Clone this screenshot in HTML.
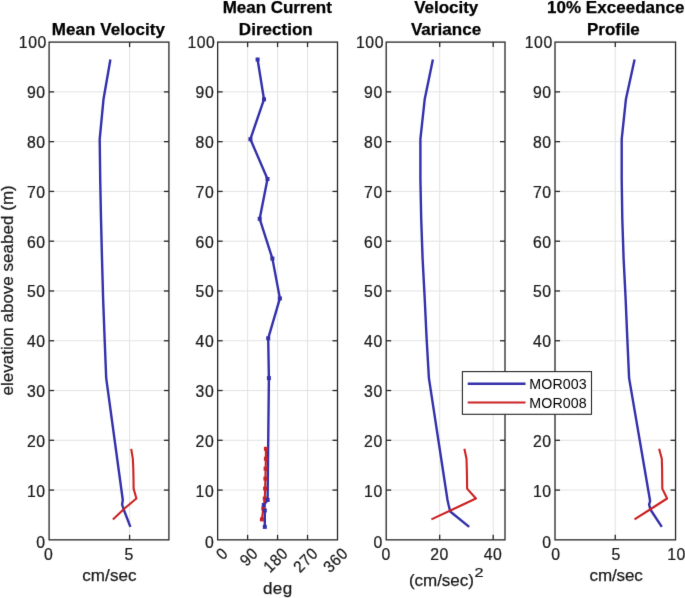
<!DOCTYPE html>
<html><head><meta charset="utf-8"><style>
html,body{margin:0;padding:0;background:#fff;overflow:hidden;width:685px;height:598px}
svg{display:block}
</style></head><body>
<svg width="685" height="598" viewBox="0 0 685 598"><defs><filter id="soft" x="0" y="0" width="685" height="598" filterUnits="userSpaceOnUse" color-interpolation-filters="sRGB"><feConvolveMatrix order="3" kernelMatrix="0.00640 0.06720 0.00640 0.06720 0.70560 0.06720 0.00640 0.06720 0.00640" edgeMode="duplicate" preserveAlpha="true"/></filter></defs><g filter="url(#soft)"><rect width="685" height="598" fill="#fff"/><g stroke="#e3e3e3" stroke-width="1"><line x1="49.1" y1="490.08" x2="168.9" y2="490.08"/><line x1="49.1" y1="440.30" x2="168.9" y2="440.30"/><line x1="49.1" y1="390.53" x2="168.9" y2="390.53"/><line x1="49.1" y1="340.75" x2="168.9" y2="340.75"/><line x1="49.1" y1="290.98" x2="168.9" y2="290.98"/><line x1="49.1" y1="241.20" x2="168.9" y2="241.20"/><line x1="49.1" y1="191.43" x2="168.9" y2="191.43"/><line x1="49.1" y1="141.65" x2="168.9" y2="141.65"/><line x1="49.1" y1="91.88" x2="168.9" y2="91.88"/><line x1="129.60" y1="42.1" x2="129.60" y2="539.85"/></g><path d="M110.4,59.5 L103.5,99.3 L99.7,139.2 L100.2,179.0 L101.0,218.8 L102.0,258.6 L103.1,298.4 L104.6,338.3 L106.2,378.1 L122.8,500.0 L122.1,504.5 L123.7,509.5 L130.4,526.9" fill="none" stroke="#3330aa" stroke-width="2.4" stroke-linejoin="round"/><path d="M131.2,448.8 L132.8,458.7 L133.3,468.7 L133.5,478.6 L133.6,488.6 L136.4,498.5 L124.5,508.5 L112.9,519.4" fill="none" stroke="#cc2222" stroke-width="2.1" stroke-linejoin="round"/><g stroke="#262626" stroke-width="1.3" fill="none"><rect x="49.1" y="42.1" width="119.80000000000001" height="497.75"/><line x1="49.1" y1="490.08" x2="54.1" y2="490.08"/><line x1="168.9" y1="490.08" x2="163.9" y2="490.08"/><line x1="49.1" y1="440.30" x2="54.1" y2="440.30"/><line x1="168.9" y1="440.30" x2="163.9" y2="440.30"/><line x1="49.1" y1="390.53" x2="54.1" y2="390.53"/><line x1="168.9" y1="390.53" x2="163.9" y2="390.53"/><line x1="49.1" y1="340.75" x2="54.1" y2="340.75"/><line x1="168.9" y1="340.75" x2="163.9" y2="340.75"/><line x1="49.1" y1="290.98" x2="54.1" y2="290.98"/><line x1="168.9" y1="290.98" x2="163.9" y2="290.98"/><line x1="49.1" y1="241.20" x2="54.1" y2="241.20"/><line x1="168.9" y1="241.20" x2="163.9" y2="241.20"/><line x1="49.1" y1="191.43" x2="54.1" y2="191.43"/><line x1="168.9" y1="191.43" x2="163.9" y2="191.43"/><line x1="49.1" y1="141.65" x2="54.1" y2="141.65"/><line x1="168.9" y1="141.65" x2="163.9" y2="141.65"/><line x1="49.1" y1="91.88" x2="54.1" y2="91.88"/><line x1="168.9" y1="91.88" x2="163.9" y2="91.88"/><line x1="129.60" y1="539.85" x2="129.60" y2="534.85"/><line x1="129.60" y1="42.1" x2="129.60" y2="47.1"/></g><g font-family="'Liberation Sans', Arial, Helvetica, sans-serif" font-size="17" fill="#1a1a1a" stroke="#1a1a1a" stroke-width="0.25" letter-spacing="0.6"><text transform="translate(45.71,547.50) scale(0.93,1)" text-anchor="end">0</text><text transform="translate(45.71,496.83) scale(0.93,1)" text-anchor="end">10</text><text transform="translate(45.71,446.85) scale(0.93,1)" text-anchor="end">20</text><text transform="translate(45.71,397.08) scale(0.93,1)" text-anchor="end">30</text><text transform="translate(45.71,347.30) scale(0.93,1)" text-anchor="end">40</text><text transform="translate(45.71,297.48) scale(0.93,1)" text-anchor="end">50</text><text transform="translate(45.71,247.70) scale(0.93,1)" text-anchor="end">60</text><text transform="translate(45.71,197.88) scale(0.93,1)" text-anchor="end">70</text><text transform="translate(45.71,148.10) scale(0.93,1)" text-anchor="end">80</text><text transform="translate(45.71,98.33) scale(0.93,1)" text-anchor="end">90</text><text transform="translate(46.91,48.25) scale(0.93,1)" text-anchor="end">100</text><text transform="translate(48.58,559.85) scale(0.93,1)" text-anchor="middle">0</text><text transform="translate(129.08,559.85) scale(0.93,1)" text-anchor="middle">5</text></g><g stroke="#e3e3e3" stroke-width="1"><line x1="217.65" y1="490.08" x2="337.5" y2="490.08"/><line x1="217.65" y1="440.30" x2="337.5" y2="440.30"/><line x1="217.65" y1="390.53" x2="337.5" y2="390.53"/><line x1="217.65" y1="340.75" x2="337.5" y2="340.75"/><line x1="217.65" y1="290.98" x2="337.5" y2="290.98"/><line x1="217.65" y1="241.20" x2="337.5" y2="241.20"/><line x1="217.65" y1="191.43" x2="337.5" y2="191.43"/><line x1="217.65" y1="141.65" x2="337.5" y2="141.65"/><line x1="217.65" y1="91.88" x2="337.5" y2="91.88"/><line x1="247.61" y1="42.1" x2="247.61" y2="539.85"/><line x1="277.57" y1="42.1" x2="277.57" y2="539.85"/><line x1="307.54" y1="42.1" x2="307.54" y2="539.85"/></g><path d="M257.6,59.5 L264.0,99.3 L250.4,139.2 L267.5,179.0 L259.7,218.8 L272.4,258.6 L279.9,298.4 L268.2,338.3 L268.9,378.1 L267.6,500.0 L263.8,505.0 L264.8,510.5 L264.8,526.9" fill="none" stroke="#3330aa" stroke-width="2.4" stroke-linejoin="round"/><path d="M265.9,448.8 L265.9,458.7 L265.6,468.7 L265.4,478.6 L265.1,488.6 L264.8,498.5 L263.3,508.5 L261.9,519.4" fill="none" stroke="#cc2222" stroke-width="2.1" stroke-linejoin="round"/><rect x="263.9" y="446.8" width="4.0" height="4.0" fill="#cc2222"/><rect x="263.9" y="456.7" width="4.0" height="4.0" fill="#cc2222"/><rect x="263.6" y="466.7" width="4.0" height="4.0" fill="#cc2222"/><rect x="263.4" y="476.6" width="4.0" height="4.0" fill="#cc2222"/><rect x="263.1" y="486.6" width="4.0" height="4.0" fill="#cc2222"/><rect x="262.8" y="496.5" width="4.0" height="4.0" fill="#cc2222"/><rect x="261.3" y="506.5" width="4.0" height="4.0" fill="#cc2222"/><rect x="259.9" y="517.4" width="4.0" height="4.0" fill="#cc2222"/><rect x="255.6" y="57.5" width="4.0" height="4.0" fill="#3330aa"/><rect x="262.0" y="97.3" width="4.0" height="4.0" fill="#3330aa"/><rect x="248.4" y="137.2" width="4.0" height="4.0" fill="#3330aa"/><rect x="265.5" y="177.0" width="4.0" height="4.0" fill="#3330aa"/><rect x="257.7" y="216.8" width="4.0" height="4.0" fill="#3330aa"/><rect x="270.4" y="256.6" width="4.0" height="4.0" fill="#3330aa"/><rect x="277.9" y="296.4" width="4.0" height="4.0" fill="#3330aa"/><rect x="266.2" y="336.3" width="4.0" height="4.0" fill="#3330aa"/><rect x="266.9" y="376.1" width="4.0" height="4.0" fill="#3330aa"/><rect x="265.6" y="498.0" width="4.0" height="4.0" fill="#3330aa"/><rect x="261.8" y="503.0" width="4.0" height="4.0" fill="#3330aa"/><rect x="262.8" y="508.5" width="4.0" height="4.0" fill="#3330aa"/><rect x="262.8" y="524.9" width="4.0" height="4.0" fill="#3330aa"/><g stroke="#262626" stroke-width="1.3" fill="none"><rect x="217.65" y="42.1" width="119.85" height="497.75"/><line x1="217.65" y1="490.08" x2="222.65" y2="490.08"/><line x1="337.5" y1="490.08" x2="332.5" y2="490.08"/><line x1="217.65" y1="440.30" x2="222.65" y2="440.30"/><line x1="337.5" y1="440.30" x2="332.5" y2="440.30"/><line x1="217.65" y1="390.53" x2="222.65" y2="390.53"/><line x1="337.5" y1="390.53" x2="332.5" y2="390.53"/><line x1="217.65" y1="340.75" x2="222.65" y2="340.75"/><line x1="337.5" y1="340.75" x2="332.5" y2="340.75"/><line x1="217.65" y1="290.98" x2="222.65" y2="290.98"/><line x1="337.5" y1="290.98" x2="332.5" y2="290.98"/><line x1="217.65" y1="241.20" x2="222.65" y2="241.20"/><line x1="337.5" y1="241.20" x2="332.5" y2="241.20"/><line x1="217.65" y1="191.43" x2="222.65" y2="191.43"/><line x1="337.5" y1="191.43" x2="332.5" y2="191.43"/><line x1="217.65" y1="141.65" x2="222.65" y2="141.65"/><line x1="337.5" y1="141.65" x2="332.5" y2="141.65"/><line x1="217.65" y1="91.88" x2="222.65" y2="91.88"/><line x1="337.5" y1="91.88" x2="332.5" y2="91.88"/><line x1="247.61" y1="539.85" x2="247.61" y2="534.85"/><line x1="247.61" y1="42.1" x2="247.61" y2="47.1"/><line x1="277.57" y1="539.85" x2="277.57" y2="534.85"/><line x1="277.57" y1="42.1" x2="277.57" y2="47.1"/><line x1="307.54" y1="539.85" x2="307.54" y2="534.85"/><line x1="307.54" y1="42.1" x2="307.54" y2="47.1"/></g><g font-family="'Liberation Sans', Arial, Helvetica, sans-serif" font-size="17" fill="#1a1a1a" stroke="#1a1a1a" stroke-width="0.25" letter-spacing="0.6"><text transform="translate(214.26,547.50) scale(0.93,1)" text-anchor="end">0</text><text transform="translate(214.26,496.83) scale(0.93,1)" text-anchor="end">10</text><text transform="translate(214.26,446.85) scale(0.93,1)" text-anchor="end">20</text><text transform="translate(214.26,397.08) scale(0.93,1)" text-anchor="end">30</text><text transform="translate(214.26,347.30) scale(0.93,1)" text-anchor="end">40</text><text transform="translate(214.26,297.48) scale(0.93,1)" text-anchor="end">50</text><text transform="translate(214.26,247.70) scale(0.93,1)" text-anchor="end">60</text><text transform="translate(214.26,197.88) scale(0.93,1)" text-anchor="end">70</text><text transform="translate(214.26,148.10) scale(0.93,1)" text-anchor="end">80</text><text transform="translate(214.26,98.33) scale(0.93,1)" text-anchor="end">90</text><text transform="translate(215.46,48.25) scale(0.93,1)" text-anchor="end">100</text><text transform="translate(225.45,550.60) rotate(-45) scale(0.93,1)" text-anchor="end" y="5.3" font-size="16.3">0</text><text transform="translate(255.41,550.60) rotate(-45) scale(0.93,1)" text-anchor="end" y="5.3" font-size="16.3">90</text><text transform="translate(285.38,550.60) rotate(-45) scale(0.93,1)" text-anchor="end" y="5.3" font-size="16.3">180</text><text transform="translate(315.34,550.60) rotate(-45) scale(0.93,1)" text-anchor="end" y="5.3" font-size="16.3">270</text><text transform="translate(345.30,550.60) rotate(-45) scale(0.93,1)" text-anchor="end" y="5.3" font-size="16.3">360</text></g><g stroke="#e3e3e3" stroke-width="1"><line x1="386.2" y1="490.08" x2="505.0" y2="490.08"/><line x1="386.2" y1="440.30" x2="505.0" y2="440.30"/><line x1="386.2" y1="390.53" x2="505.0" y2="390.53"/><line x1="386.2" y1="340.75" x2="505.0" y2="340.75"/><line x1="386.2" y1="290.98" x2="505.0" y2="290.98"/><line x1="386.2" y1="241.20" x2="505.0" y2="241.20"/><line x1="386.2" y1="191.43" x2="505.0" y2="191.43"/><line x1="386.2" y1="141.65" x2="505.0" y2="141.65"/><line x1="386.2" y1="91.88" x2="505.0" y2="91.88"/><line x1="439.70" y1="42.1" x2="439.70" y2="539.85"/><line x1="493.20" y1="42.1" x2="493.20" y2="539.85"/></g><path d="M432.9,59.5 L424.7,99.3 L420.4,139.2 L420.4,179.0 L421.2,218.8 L422.6,258.6 L424.7,298.4 L426.6,338.3 L428.9,378.1 L447.5,500.0 L448.6,505.0 L450.2,511.5 L469.2,526.9" fill="none" stroke="#3330aa" stroke-width="2.4" stroke-linejoin="round"/><path d="M464.4,448.8 L466.5,458.7 L466.8,468.7 L467.0,478.6 L467.1,488.6 L475.9,498.5 L453.6,509.0 L431.4,519.4" fill="none" stroke="#cc2222" stroke-width="2.1" stroke-linejoin="round"/><g stroke="#262626" stroke-width="1.3" fill="none"><rect x="386.2" y="42.1" width="118.80000000000001" height="497.75"/><line x1="386.2" y1="490.08" x2="391.2" y2="490.08"/><line x1="505.0" y1="490.08" x2="500.0" y2="490.08"/><line x1="386.2" y1="440.30" x2="391.2" y2="440.30"/><line x1="505.0" y1="440.30" x2="500.0" y2="440.30"/><line x1="386.2" y1="390.53" x2="391.2" y2="390.53"/><line x1="505.0" y1="390.53" x2="500.0" y2="390.53"/><line x1="386.2" y1="340.75" x2="391.2" y2="340.75"/><line x1="505.0" y1="340.75" x2="500.0" y2="340.75"/><line x1="386.2" y1="290.98" x2="391.2" y2="290.98"/><line x1="505.0" y1="290.98" x2="500.0" y2="290.98"/><line x1="386.2" y1="241.20" x2="391.2" y2="241.20"/><line x1="505.0" y1="241.20" x2="500.0" y2="241.20"/><line x1="386.2" y1="191.43" x2="391.2" y2="191.43"/><line x1="505.0" y1="191.43" x2="500.0" y2="191.43"/><line x1="386.2" y1="141.65" x2="391.2" y2="141.65"/><line x1="505.0" y1="141.65" x2="500.0" y2="141.65"/><line x1="386.2" y1="91.88" x2="391.2" y2="91.88"/><line x1="505.0" y1="91.88" x2="500.0" y2="91.88"/><line x1="439.70" y1="539.85" x2="439.70" y2="534.85"/><line x1="439.70" y1="42.1" x2="439.70" y2="47.1"/><line x1="493.20" y1="539.85" x2="493.20" y2="534.85"/><line x1="493.20" y1="42.1" x2="493.20" y2="47.1"/></g><g font-family="'Liberation Sans', Arial, Helvetica, sans-serif" font-size="17" fill="#1a1a1a" stroke="#1a1a1a" stroke-width="0.25" letter-spacing="0.6"><text transform="translate(382.81,547.50) scale(0.93,1)" text-anchor="end">0</text><text transform="translate(382.81,496.83) scale(0.93,1)" text-anchor="end">10</text><text transform="translate(382.81,446.85) scale(0.93,1)" text-anchor="end">20</text><text transform="translate(382.81,397.08) scale(0.93,1)" text-anchor="end">30</text><text transform="translate(382.81,347.30) scale(0.93,1)" text-anchor="end">40</text><text transform="translate(382.81,297.48) scale(0.93,1)" text-anchor="end">50</text><text transform="translate(382.81,247.70) scale(0.93,1)" text-anchor="end">60</text><text transform="translate(382.81,197.88) scale(0.93,1)" text-anchor="end">70</text><text transform="translate(382.81,148.10) scale(0.93,1)" text-anchor="end">80</text><text transform="translate(382.81,98.33) scale(0.93,1)" text-anchor="end">90</text><text transform="translate(384.01,48.25) scale(0.93,1)" text-anchor="end">100</text><text transform="translate(386.08,559.85) scale(0.93,1)" text-anchor="middle">0</text><text transform="translate(439.58,559.85) scale(0.93,1)" text-anchor="middle">20</text><text transform="translate(493.08,559.85) scale(0.93,1)" text-anchor="middle">40</text></g><g stroke="#e3e3e3" stroke-width="1"><line x1="555.0" y1="490.08" x2="675.55" y2="490.08"/><line x1="555.0" y1="440.30" x2="675.55" y2="440.30"/><line x1="555.0" y1="390.53" x2="675.55" y2="390.53"/><line x1="555.0" y1="340.75" x2="675.55" y2="340.75"/><line x1="555.0" y1="290.98" x2="675.55" y2="290.98"/><line x1="555.0" y1="241.20" x2="675.55" y2="241.20"/><line x1="555.0" y1="191.43" x2="675.55" y2="191.43"/><line x1="555.0" y1="141.65" x2="675.55" y2="141.65"/><line x1="555.0" y1="91.88" x2="675.55" y2="91.88"/><line x1="615.27" y1="42.1" x2="615.27" y2="539.85"/></g><path d="M634.6,59.5 L625.9,99.3 L621.7,139.2 L621.7,179.0 L622.3,218.8 L623.6,258.6 L625.6,298.4 L627.3,338.3 L629.1,378.1 L650.1,501.0 L649.1,504.5 L650.4,509.5 L661.8,526.9" fill="none" stroke="#3330aa" stroke-width="2.4" stroke-linejoin="round"/><path d="M659.1,448.8 L661.8,458.7 L662.1,468.7 L662.2,478.6 L662.3,488.6 L667.1,498.5 L650.8,509.0 L634.5,519.4" fill="none" stroke="#cc2222" stroke-width="2.1" stroke-linejoin="round"/><g stroke="#262626" stroke-width="1.3" fill="none"><rect x="555.0" y="42.1" width="120.54999999999995" height="497.75"/><line x1="555.0" y1="490.08" x2="560.0" y2="490.08"/><line x1="675.55" y1="490.08" x2="670.55" y2="490.08"/><line x1="555.0" y1="440.30" x2="560.0" y2="440.30"/><line x1="675.55" y1="440.30" x2="670.55" y2="440.30"/><line x1="555.0" y1="390.53" x2="560.0" y2="390.53"/><line x1="675.55" y1="390.53" x2="670.55" y2="390.53"/><line x1="555.0" y1="340.75" x2="560.0" y2="340.75"/><line x1="675.55" y1="340.75" x2="670.55" y2="340.75"/><line x1="555.0" y1="290.98" x2="560.0" y2="290.98"/><line x1="675.55" y1="290.98" x2="670.55" y2="290.98"/><line x1="555.0" y1="241.20" x2="560.0" y2="241.20"/><line x1="675.55" y1="241.20" x2="670.55" y2="241.20"/><line x1="555.0" y1="191.43" x2="560.0" y2="191.43"/><line x1="675.55" y1="191.43" x2="670.55" y2="191.43"/><line x1="555.0" y1="141.65" x2="560.0" y2="141.65"/><line x1="675.55" y1="141.65" x2="670.55" y2="141.65"/><line x1="555.0" y1="91.88" x2="560.0" y2="91.88"/><line x1="675.55" y1="91.88" x2="670.55" y2="91.88"/><line x1="615.27" y1="539.85" x2="615.27" y2="534.85"/><line x1="615.27" y1="42.1" x2="615.27" y2="47.1"/></g><g font-family="'Liberation Sans', Arial, Helvetica, sans-serif" font-size="17" fill="#1a1a1a" stroke="#1a1a1a" stroke-width="0.25" letter-spacing="0.6"><text transform="translate(551.61,547.50) scale(0.93,1)" text-anchor="end">0</text><text transform="translate(551.61,496.83) scale(0.93,1)" text-anchor="end">10</text><text transform="translate(551.61,446.85) scale(0.93,1)" text-anchor="end">20</text><text transform="translate(551.61,397.08) scale(0.93,1)" text-anchor="end">30</text><text transform="translate(551.61,347.30) scale(0.93,1)" text-anchor="end">40</text><text transform="translate(551.61,297.48) scale(0.93,1)" text-anchor="end">50</text><text transform="translate(551.61,247.70) scale(0.93,1)" text-anchor="end">60</text><text transform="translate(551.61,197.88) scale(0.93,1)" text-anchor="end">70</text><text transform="translate(551.61,148.10) scale(0.93,1)" text-anchor="end">80</text><text transform="translate(551.61,98.33) scale(0.93,1)" text-anchor="end">90</text><text transform="translate(552.81,48.25) scale(0.93,1)" text-anchor="end">100</text><text transform="translate(555.98,559.85) scale(0.93,1)" text-anchor="middle">0</text><text transform="translate(616.25,559.85) scale(0.93,1)" text-anchor="middle">5</text><text transform="translate(676.53,559.85) scale(0.93,1)" text-anchor="middle">10</text></g><text x="108.40" y="34.70" text-anchor="middle" font-family="'Liberation Sans', Arial, Helvetica, sans-serif" font-size="17" font-weight="bold" stroke="#000" stroke-width="0.25" fill="#000" textLength="113.28" lengthAdjust="spacing">Mean Velocity</text><text x="277.30" y="12.60" text-anchor="middle" font-family="'Liberation Sans', Arial, Helvetica, sans-serif" font-size="17" font-weight="bold" stroke="#000" stroke-width="0.25" fill="#000" textLength="109.09" lengthAdjust="spacing">Mean Current</text><text x="275.80" y="34.80" text-anchor="middle" font-family="'Liberation Sans', Arial, Helvetica, sans-serif" font-size="17" font-weight="bold" stroke="#000" stroke-width="0.25" fill="#000" textLength="73.87" lengthAdjust="spacing">Direction</text><text x="446.20" y="12.60" text-anchor="middle" font-family="'Liberation Sans', Arial, Helvetica, sans-serif" font-size="17" font-weight="bold" stroke="#000" stroke-width="0.25" fill="#000" textLength="64.14" lengthAdjust="spacing">Velocity</text><text x="446.10" y="34.80" text-anchor="middle" font-family="'Liberation Sans', Arial, Helvetica, sans-serif" font-size="17" font-weight="bold" stroke="#000" stroke-width="0.25" fill="#000" textLength="70.43" lengthAdjust="spacing">Variance</text><text x="615.70" y="12.60" text-anchor="middle" font-family="'Liberation Sans', Arial, Helvetica, sans-serif" font-size="17" font-weight="bold" stroke="#000" stroke-width="0.25" fill="#000" textLength="137.40" lengthAdjust="spacing">10% Exceedance</text><text x="613.40" y="34.80" text-anchor="middle" font-family="'Liberation Sans', Arial, Helvetica, sans-serif" font-size="17" font-weight="bold" stroke="#000" stroke-width="0.25" fill="#000" textLength="52.87" lengthAdjust="spacing">Profile</text><text x="109.40" y="581.20" text-anchor="middle" font-family="'Liberation Sans', Arial, Helvetica, sans-serif" font-size="17" stroke="#1a1a1a" stroke-width="0.25" fill="#1a1a1a" textLength="54.18" lengthAdjust="spacing">cm/sec</text><text x="277.60" y="593.70" text-anchor="middle" font-family="'Liberation Sans', Arial, Helvetica, sans-serif" font-size="17" stroke="#1a1a1a" stroke-width="0.25" fill="#1a1a1a" textLength="29.41" lengthAdjust="spacing">deg</text><text x="616.20" y="581.20" text-anchor="middle" font-family="'Liberation Sans', Arial, Helvetica, sans-serif" font-size="17" stroke="#1a1a1a" stroke-width="0.25" fill="#1a1a1a" textLength="53.27" lengthAdjust="spacing">cm/sec</text><text x="441.40" y="585.60" text-anchor="middle" font-family="'Liberation Sans', Arial, Helvetica, sans-serif" font-size="17" fill="#1a1a1a" stroke="#1a1a1a" stroke-width="0.25" textLength="64.92" lengthAdjust="spacing">(cm/sec)</text><text transform="translate(474.60,576.80) scale(1.2,1)" font-family="'Liberation Sans', Arial, Helvetica, sans-serif" font-size="13.5" fill="#1a1a1a" stroke="#1a1a1a" stroke-width="0.25">2</text><text transform="translate(12.80,290.40) rotate(-90)" text-anchor="middle" font-family="'Liberation Sans', Arial, Helvetica, sans-serif" font-size="17" fill="#1a1a1a" stroke="#1a1a1a" stroke-width="0.25" textLength="210.38" lengthAdjust="spacing">elevation above seabed (m)</text><rect x="462.4" y="371.6" width="129.10000000000002" height="42.69999999999999" fill="#fff" stroke="#262626" stroke-width="1.1"/><line x1="467.7" y1="383.8" x2="525.5" y2="383.8" stroke="#3330aa" stroke-width="2.4"/><line x1="467.7" y1="402.5" x2="525.5" y2="402.5" stroke="#cc2222" stroke-width="2.1"/><text x="558.00" y="388.90" text-anchor="middle" font-family="'Liberation Sans', Arial, Helvetica, sans-serif" font-size="14.2" fill="#000" textLength="57.30" lengthAdjust="spacing">MOR003</text><text x="558.00" y="408.00" text-anchor="middle" font-family="'Liberation Sans', Arial, Helvetica, sans-serif" font-size="14.2" fill="#000" textLength="57.30" lengthAdjust="spacing">MOR008</text></g></svg>
</body></html>
